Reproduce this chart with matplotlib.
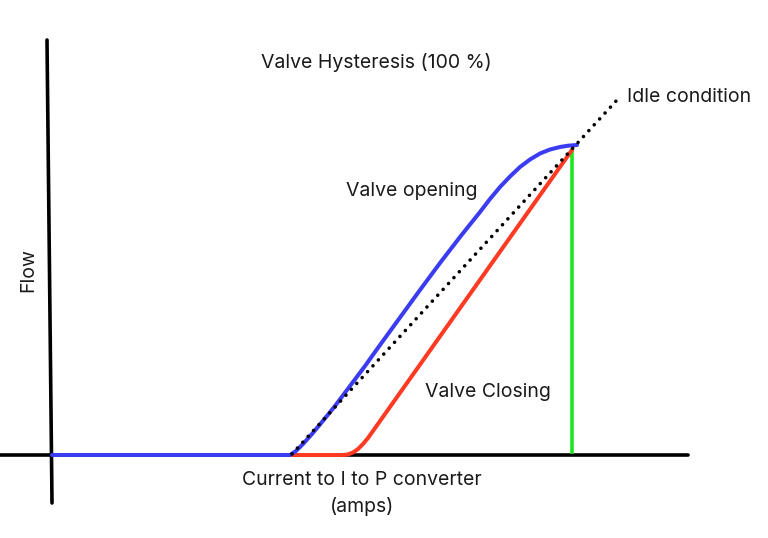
import matplotlib
matplotlib.use("Agg")
import matplotlib.pyplot as plt

# unidades arbitrarias: x = corriente al convertidor I/P, y = caudal
# curva de apertura (azul)
open_x = [0.1, 23.9, 24.5, 25.2, 26.1, 27.1, 28.4, 29.9, 31.4, 32.9, 34.9,
          36.9, 38.9, 40.9, 42.9, 43.9, 44.9, 45.9, 46.9, 47.9, 48.9,
          49.9, 50.9, 51.7, 52.6]
open_y = [0.0, 0.0, 0.4, 1.1, 2.1, 3.3, 4.9, 6.9, 8.9, 11.0, 13.75,
          16.5, 19.2, 21.8, 24.3, 25.6, 26.8, 27.85, 28.8, 29.55, 30.15,
          30.55, 30.8, 30.93, 31.0]

# curva de cierre (roja)
close_x = [23.9, 29.2, 29.7, 30.2, 30.7, 31.2, 31.7, 52.1]
close_y = [0.0, 0.0, 0.05, 0.25, 0.6, 1.1, 1.7, 30.5]

# condicion ideal (punteada)
idle_x = [24.1, 56.6]
idle_y = [0.1, 35.5]

# histeresis (verde)
hyst_x = [52.1, 52.1]
hyst_y = [0.3, 30.5]

# ejes dibujados a mano
xaxis_x = [-5.1, 63.7]
xaxis_y = [0.0, 0.0]
yaxis_x = [-0.4, 0.1]
yaxis_y = [41.5, -4.8]

plt.rcParams['font.family'] = ['Inter', 'DejaVu Sans']

fig = plt.figure(figsize=(7.68, 5.38), dpi=100)
ax = fig.add_axes([0, 0, 1, 1])
ax.set_xlim(-5.1, 71.7)
ax.set_ylim(-8.3, 45.5)
ax.axis('off')

txt = '#1a1a1a'
fs = 14
ax.plot(xaxis_x, xaxis_y, color='black', lw=2.6, solid_capstyle='round', zorder=1)
ax.plot(yaxis_x, yaxis_y, color='black', lw=2.6, solid_capstyle='round', zorder=1)

ax.plot(hyst_x, hyst_y, color='#1ee61e', lw=2.6, zorder=2)
ax.plot(close_x, close_y, color='#ff3a22', lw=2.9, solid_capstyle='round',
        solid_joinstyle='round', zorder=3)
ax.plot(open_x, open_y, color='#3b3bf2', lw=2.9, solid_capstyle='round',
        solid_joinstyle='round', zorder=4)
ax.plot(idle_x, idle_y, color='black', lw=2.6, linestyle=(0, (0.01, 2.2)),
        dash_capstyle='round', zorder=5)

ax.text(32.5, 39.3, 'Valve Hysteresis (100 %)', ha='center', va='center', fontsize=fs, color=txt)
ax.text(57.6, 35.8, 'Idle condition', ha='left', va='center', fontsize=fs, color=txt)
ax.text(36.1, 26.4, 'Valve opening', ha='center', va='center', fontsize=fs, color=txt)
ax.text(43.7, 6.3, 'Valve Closing', ha='center', va='center', fontsize=fs, color=txt)
ax.text(31.1, -2.5, 'Current to I to P converter', ha='center', va='center', fontsize=fs, color=txt)
ax.text(31.1, -5.2, '(amps)', ha='center', va='center', fontsize=fs, color=txt)
ax.text(-2.3, 18.5, 'Flow', ha='center', va='center', rotation=90, fontsize=fs, color=txt)

fig.savefig('out.png', dpi=100, facecolor='white')
